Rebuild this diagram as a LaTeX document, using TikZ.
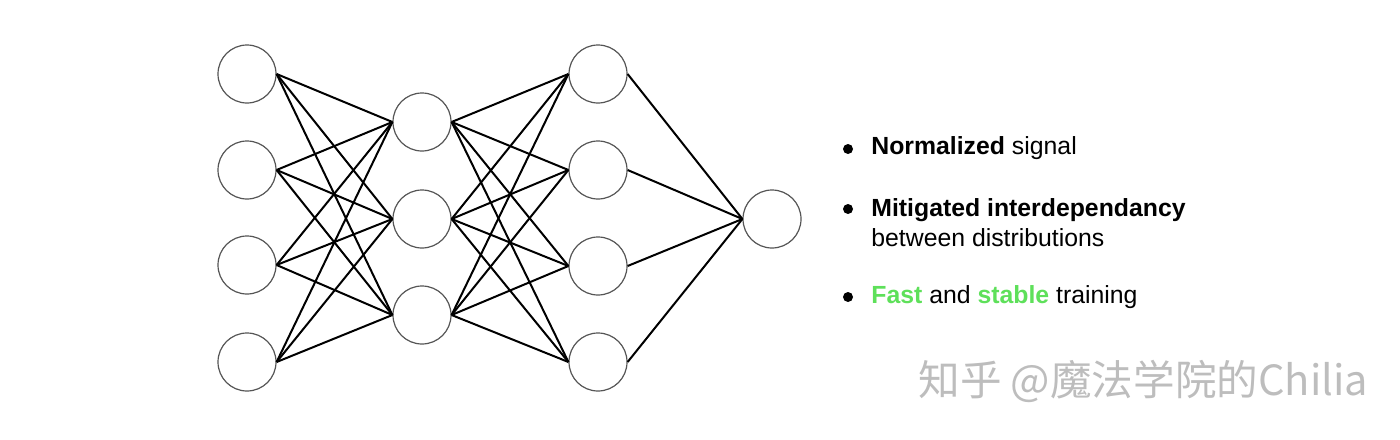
\documentclass[tikz,border=0pt]{standalone}
\usepackage{fontspec}
\setmainfont{Liberation Sans}
\newfontfamily\cjk{Noto Sans CJK SC}
\usepackage{xcolor}
\usetikzlibrary{positioning}
\definecolor{ring}{HTML}{555555}
\definecolor{fastgreen}{HTML}{5EE05A}
\definecolor{wmgray}{HTML}{BDBDBD}
\tikzset{neuron/.style={circle,draw=ring,line width=.6pt,minimum size=29pt,inner sep=0pt},edge/.style={draw=black,line width=1pt},item/.style={anchor=west,font=\fontsize{12.4pt}{15pt}\selectfont,inner sep=0pt,align=left}}
\begin{document}
\begin{tikzpicture}[x=.5pt,y=-.5pt]
 \useasboundingbox (0,0) rectangle (1400,439);
 \foreach \i/\y in {1/74,2/170,3/265,4/362} \node[neuron] (a\i) at (247,\y) {};
 \foreach \i/\y in {1/122,2/219,3/315} \node[neuron] (b\i) at (422,\y) {};
 \foreach \i/\y in {1/74,2/170,3/266,4/362} \node[neuron] (c\i) at (598,\y) {};
 \node[neuron] (out) at (772,219) {};
 \foreach \i in {1,...,4} \foreach \j in {1,2,3} \draw[edge] (a\i.east) -- (b\j.west);
 \foreach \j in {1,2,3} \foreach \k in {1,...,4} \draw[edge] (b\j.east) -- (c\k.west);
 \foreach \k in {1,...,4} \draw[edge] (c\k.east) -- (out.west);
 % bullet list
 \foreach \n/\y in {p1/149,p2/209,p3/297} \fill (848,\y) circle (5) coordinate (\n);
 \node[item] (t1) at (871,148) {\textbf{Normalized} signal};
 \node[item] (t2) at (871,223) {\textbf{Mitigated interdependancy}\\between distributions};
 \node[item] (t3) at (871,297) {\textcolor{fastgreen}{\textbf{Fast}} and \textcolor{fastgreen}{\textbf{stable}} training};
 \node[anchor=west,inner sep=0pt,text=wmgray,font=\cjk\fontsize{20.8pt}{24pt}\selectfont] (wm) at (918,381) {知乎 @魔法学院的Chilia};
\end{tikzpicture}
\end{document}
